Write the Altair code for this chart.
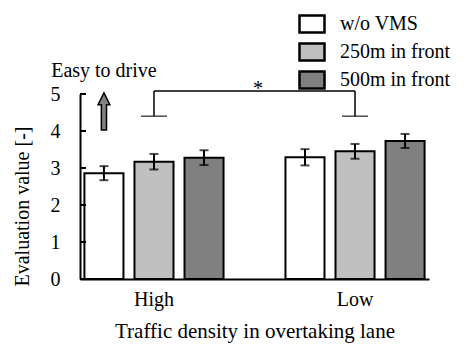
import altair as alt
import pandas as pd

density = ["High", "High", "High", "Low", "Low", "Low"]
condition = ["w/o VMS", "250m in front", "500m in front"] * 2
mean = [2.86, 3.17, 3.28, 3.29, 3.45, 3.73]
err = [0.19, 0.21, 0.20, 0.22, 0.20, 0.19]
cond_order = ["w/o VMS", "250m in front", "500m in front"]
fills = ["#ffffff", "#c0c0c0", "#808080"]
y_ticks = [0, 1, 2, 3, 4, 5]

FONT = "Liberation Serif"

df = pd.DataFrame({"density": density, "condition": condition, "mean": mean, "err": err})
df["lo"] = df["mean"] - df["err"]
df["hi"] = df["mean"] + df["err"]

xscale = alt.Scale(domain=["High", "Low"], paddingInner=0.308, paddingOuter=0.022)
xoff_scale = alt.Scale(domain=cond_order, paddingInner=0.22, paddingOuter=0)
yscale = alt.Scale(domain=[0, 5], nice=False)

X = alt.X("density:N", scale=xscale, sort=["High", "Low"],
          axis=alt.Axis(title="Traffic density in overtaking lane", labelAngle=0,
                        ticks=False, labelPadding=10, titlePadding=11,
                        domainColor="black", domainWidth=2,
                        labelFontSize=20, titleFontSize=21,
                        labelFont=FONT, titleFont=FONT,
                        labelColor="black", titleColor="black",
                        titleFontWeight="normal"))
XO = alt.XOffset("condition:N", scale=xoff_scale, sort=cond_order)

y_axis = alt.Axis(title="Evaluation value [-]", values=y_ticks, tickCount=6, ticks=False,
                  grid=False, labelPadding=20, labelOverlap=False,
                  domainColor="black", domainWidth=2,
                  labelFontSize=20, titleFontSize=20, labelFont=FONT, titleFont=FONT,
                  labelColor="black", titleColor="black", titleFontWeight="normal",
                  titleX=-58, titleY=112, titleBaseline="middle")

base = alt.Chart(df)

bars = base.mark_bar(stroke="black", strokeWidth=2).encode(
    x=X,
    xOffset=XO,
    y=alt.Y("mean:Q", scale=yscale, axis=y_axis),
    fill=alt.Fill("condition:N", sort=cond_order,
                  scale=alt.Scale(domain=cond_order, range=fills),
                  legend=alt.Legend(title=None, orient="none", legendX=218, legendY=-84,
                                    symbolType="M-1,-0.68L1,-0.68L1,0.68L-1,0.68Z",
                                    symbolSize=625, symbolStrokeColor="black",
                                    symbolStrokeWidth=2.5, labelFontSize=20, labelFont=FONT,
                                    labelColor="black", rowPadding=0, labelOffset=14,
                                    padding=0)),
)

err_rule = base.mark_rule(color="black", strokeWidth=2).encode(
    x=X, xOffset=XO, y=alt.Y("lo:Q", scale=yscale, axis=y_axis), y2="hi:Q")
cap_lo = base.mark_tick(color="black", orient="horizontal", size=9, thickness=2).encode(
    x=X, xOffset=XO, y=alt.Y("lo:Q", scale=yscale, axis=y_axis))
cap_hi = base.mark_tick(color="black", orient="horizontal", size=9, thickness=2).encode(
    x=X, xOffset=XO, y=alt.Y("hi:Q", scale=yscale, axis=y_axis))

# inward y-axis ticks
tick_df = pd.DataFrame({"v": y_ticks})
yticks = alt.Chart(tick_df).mark_rule(color="black", strokeWidth=2).encode(
    y=alt.Y("v:Q", scale=yscale, axis=y_axis), x=alt.value(0), x2=alt.value(6))

# significance bracket
br_level = 5.08
br_foot = 4.4
br_df = pd.DataFrame({"g": ["High", "Low"], "top": [br_level, br_level], "foot": [br_foot, br_foot]})
br_h = alt.Chart(pd.DataFrame({"a": ["High"], "b": ["Low"], "y": [br_level]})).mark_rule(
    color="black", strokeWidth=1.5).encode(
    x=alt.X("a:N", scale=xscale, bandPosition=0.5),
    x2=alt.X2("b:N", bandPosition=0.5),
    y=alt.Y("y:Q", scale=yscale, axis=y_axis))
br_v = alt.Chart(br_df).mark_rule(color="black", strokeWidth=1.5).encode(
    x=alt.X("g:N", scale=xscale),
    y=alt.Y("foot:Q", scale=yscale, axis=y_axis), y2="top:Q")
br_f = alt.Chart(br_df).mark_tick(color="black", orient="horizontal", size=26, thickness=1.5).encode(
    x=alt.X("g:N", scale=xscale),
    y=alt.Y("foot:Q", scale=yscale, axis=y_axis))
star = alt.Chart(pd.DataFrame({"g": ["High"], "y": [br_level], "t": ["*"]})).mark_text(
    font=FONT, fontSize=20, color="black", baseline="bottom", dx=104, dy=8).encode(
    x=alt.X("g:N", scale=xscale), y=alt.Y("y:Q", scale=yscale, axis=y_axis), text="t:N")

# "easy to drive" arrow + label
arr_df = pd.DataFrame({"density": ["High"], "condition": ["w/o VMS"], "y": [4.53],
                       "ty": [5.46], "t": ["Easy to drive"]})
arrow = alt.Chart(arr_df).mark_point(
    shape="M0,-1L0.32,-0.36L0.14,-0.36L0.14,1L-0.14,1L-0.14,-0.36L-0.32,-0.36Z",
    size=1369, filled=True, fill="#808080", stroke="black", strokeWidth=1.5, opacity=1).encode(
    x=X, xOffset=XO, y=alt.Y("y:Q", scale=yscale, axis=y_axis))
easy = alt.Chart(arr_df).mark_text(font=FONT, fontSize=20, color="black",
                                   baseline="alphabetic").encode(
    x=X, xOffset=XO, y=alt.Y("ty:Q", scale=yscale, axis=y_axis), text="t:N")

chart = alt.layer(bars, err_rule, cap_lo, cap_hi, yticks, br_h, br_v, br_f, star, arrow, easy).properties(
    width=349, height=185,
    autosize=alt.AutoSizeParams(type="none"),
    padding={"left": 80, "top": 94, "right": 45, "bottom": 74},
    background="white",
).configure_view(stroke=None).configure_axis(grid=False).configure_axisY(labelOverlap=False)

chart.save("out.html", embed_options={"renderer": "svg", "actions": False})
